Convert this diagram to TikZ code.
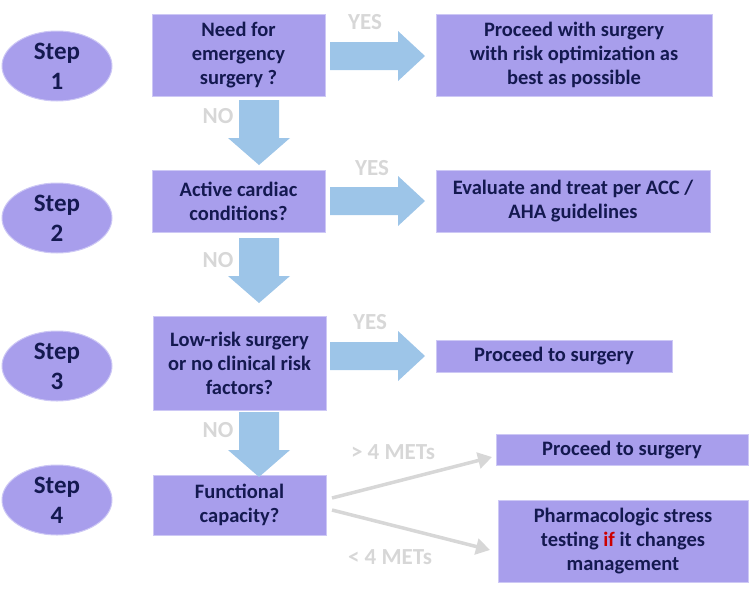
\documentclass[tikz,border=0pt]{standalone}
\usepackage{fontspec}
\setmainfont{Carlito}
\begin{document}
\begin{tikzpicture}[x=1pt,y=-1pt,
  box/.style={draw=boxline,fill=boxfill,line width=1pt,text=navy,font=\bfseries\fontsize{20.5}{24}\selectfont,align=center,inner sep=0pt},
  stepnode/.style={ellipse,draw=boxline,fill=boxfill,line width=1pt,text=navy,font=\bfseries\fontsize{25}{30}\selectfont,align=center,minimum width=110pt,minimum height=70pt,inner sep=0pt},
  lbl/.style={text=lightgray2,font=\bfseries\fontsize{23}{26}\selectfont},
  garrow/.style={draw=arrgray,line width=3.5pt,-{Triangle[length=14pt,width=16pt]}},
  pics/rarr/.style={code={\fill[arrowblue] (0,-14) -- (68,-14) -- (68,-25) -- (95,0) -- (68,25) -- (68,14) -- (0,14) -- cycle;}},
  pics/darr/.style={code={\fill[arrowblue] (-20,0) -- (20,0) -- (20,38) -- (31,38) -- (0,65) -- (-31,38) -- (-20,38) -- cycle;}}
]
\usetikzlibrary{shapes.geometric,arrows.meta}
\definecolor{boxfill}{RGB}{168,158,236}
\definecolor{boxline}{RGB}{205,200,245}
\definecolor{navy}{RGB}{20,25,80}
\definecolor{arrowblue}{RGB}{157,197,232}
\definecolor{lightgray2}{RGB}{215,215,215}
\definecolor{arrgray}{RGB}{215,215,215}
\useasboundingbox (0,0) rectangle (750,590);

\node[stepnode] (s1) at (57,66) {Step\\1};
\node[stepnode] (s2) at (57,218) {Step\\2};
\node[stepnode] (s3) at (57,366) {Step\\3};
\node[stepnode] (s4) at (57,500) {Step\\4};

\node[box,minimum width=173pt,minimum height=82pt] (q1) at (238.5,55) {Need for\\emergency\\surgery ?};
\node[box,minimum width=276pt,minimum height=82pt] (a1) at (574,55) {Proceed with surgery\\with risk optimization as\\best as possible};
\node[box,minimum width=173pt,minimum height=62pt] (q2) at (238.5,201) {Active cardiac\\conditions?};
\node[box,minimum width=274pt,minimum height=62pt] (a2) at (573,201) {Evaluate and treat per ACC /\\AHA guidelines};
\node[box,minimum width=173pt,minimum height=94pt] (q3) at (239.5,363) {Low-risk surgery\\or no clinical risk\\factors?};
\node[box,minimum width=236pt,minimum height=32pt] (a3) at (554,356) {Proceed to surgery};
\node[box,minimum width=173pt,minimum height=60pt] (q4) at (239.5,505) {Functional\\capacity?};
\node[box,minimum width=252pt,minimum height=31pt] (a4) at (622,450) {Proceed to surgery};
\node[box,minimum width=250pt,minimum height=82pt] (a5) at (623,541) {Pharmacologic stress\\testing {\color{red!80!black}if} it changes\\management};

\pic at (330,56) {rarr};
\pic at (330,201) {rarr};
\pic at (330,356) {rarr};
\pic at (259,100) {darr};
\pic at (259,238) {darr};
\pic at (259,412) {darr};

\node[lbl] (y1) at (365,22) {YES};
\node[lbl] (y2) at (372,168) {YES};
\node[lbl] (y3) at (370,322) {YES};
\node[lbl] (n1) at (218,116) {NO};
\node[lbl] (n2) at (218,260) {NO};
\node[lbl] (n3) at (218,430) {NO};
\node[lbl] (m1) at (393,452) {> 4 METs};
\node[lbl] (m2) at (390,557) {< 4 METs};

\coordinate (g0) at (332,498);
\coordinate (g1) at (332,510);
\draw[garrow] (g0) -- (492,457);
\draw[garrow] (g1) -- (490,550);
\end{tikzpicture}
\end{document}
